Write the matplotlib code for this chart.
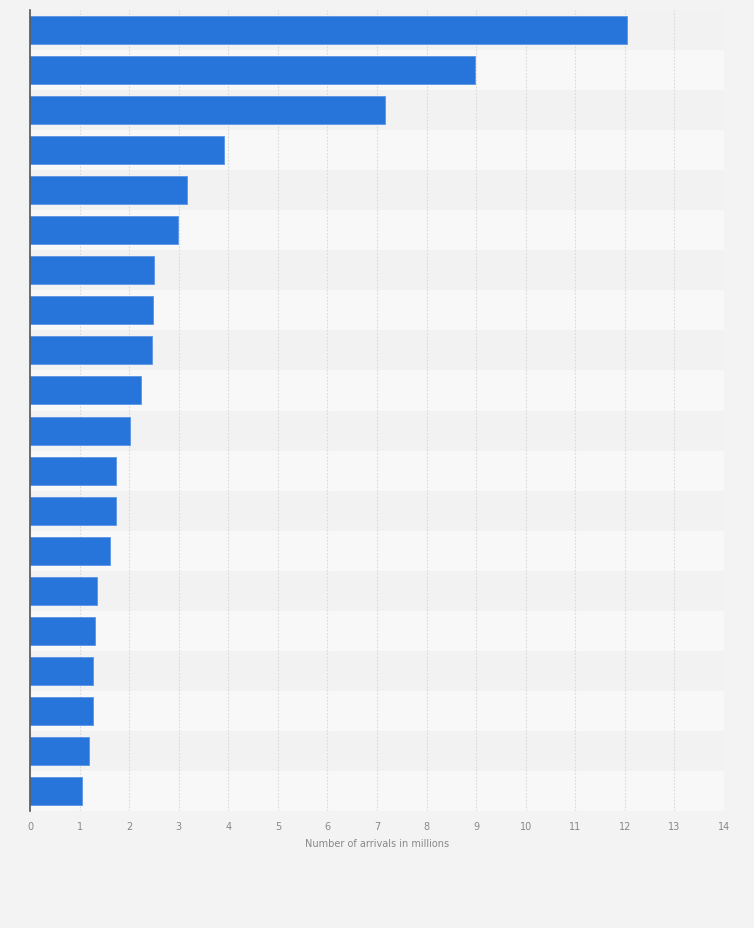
import numpy as np
import matplotlib.pyplot as plt

# arrivals in millions, top bar first
values = [12.05, 8.98, 7.17, 3.91, 3.17, 2.98, 2.50, 2.48, 2.46, 2.24,
          2.02, 1.73, 1.73, 1.61, 1.35, 1.31, 1.27, 1.27, 1.19, 1.05]
x_ticks = list(range(0, 15))
x_label = "Number of arrivals in millions"

fig = plt.figure(figsize=(7.54, 9.29), dpi=100, facecolor="#f3f3f3")
ax = fig.add_axes([30 / 754, 1 - 812 / 929, 694 / 754, 801 / 929])
ax.set_facecolor("#f3f3f3")

n = len(values)
y = np.arange(n)

# alternating row bands
for i in range(n):
    ax.axhspan(i - 0.5, i + 0.5, color="#f2f2f2" if i % 2 == 0 else "#f8f8f8",
               zorder=0, lw=0)

ax.barh(y, values, height=0.7, color="#2775db", edgecolor="#5a95e6",
        linewidth=0.6, zorder=3)

ax.set_xlim(0, 14)
ax.set_ylim(n - 0.5, -0.5)
ax.set_xticks(x_ticks)
ax.set_xticklabels([str(t) for t in x_ticks], fontsize=7, color="#888888")
ax.set_yticks([])
ax.tick_params(axis="x", length=0, pad=7)
ax.grid(axis="x", color="#dadada", linestyle=(0, (1.5, 1.5)), linewidth=0.8, zorder=1)
ax.set_axisbelow(True)

for side in ["top", "right", "bottom"]:
    ax.spines[side].set_visible(False)
ax.spines["left"].set_color("#555555")
ax.spines["left"].set_linewidth(1.2)
ax.spines["left"].set_zorder(4)

ax.set_xlabel(x_label, fontsize=7, color="#888888", labelpad=5)

fig.savefig("out.png", dpi=100, facecolor=fig.get_facecolor())
